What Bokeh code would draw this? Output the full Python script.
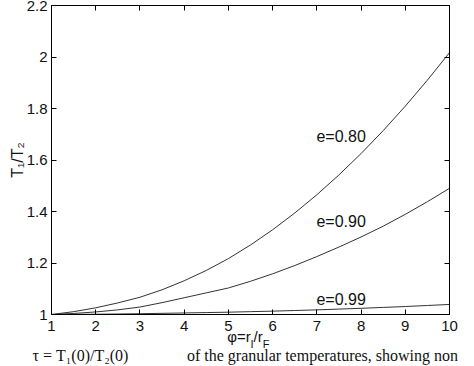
from bokeh.plotting import figure
from bokeh.models import LinearAxis, FixedTicker, Label
from bokeh.embed import file_html
from bokeh.resources import INLINE

# ---- data ----
phi = [1, 1.5, 2, 2.5, 3, 3.5, 4, 4.5, 5, 5.5, 6, 6.5, 7, 7.5, 8, 8.5, 9, 9.5, 10]
t_e080 = [1.000, 1.011, 1.026, 1.045, 1.067, 1.096, 1.131, 1.171, 1.217, 1.270,
          1.329, 1.394, 1.465, 1.542, 1.625, 1.714, 1.809, 1.910, 2.017]
t_e090 = [1.000, 1.004, 1.010, 1.018, 1.029, 1.046, 1.065, 1.084, 1.103, 1.129,
          1.158, 1.190, 1.225, 1.262, 1.301, 1.343, 1.389, 1.438, 1.490]
t_e099 = [1.000, 1.0005, 1.001, 1.002, 1.003, 1.0045, 1.006, 1.0075, 1.009, 1.011,
          1.013, 1.0155, 1.018, 1.021, 1.024, 1.0275, 1.031, 1.035, 1.039]
curve_labels = ["e=0.80", "e=0.90", "e=0.99"]
label_x = [7.55, 7.55, 7.55]
label_y = [1.691, 1.361, 1.058]
x_ticks = [1, 2, 3, 4, 5, 6, 7, 8, 9, 10]
y_ticks = [1.0, 1.2, 1.4, 1.6, 1.8, 2.0, 2.2]
y_tick_labels = ["1", "1.2", "1.4", "1.6", "1.8", "2", "2.2"]
y_title = "T\u2081/T\u2082"
x_title_main = ["\u03c6=r", "/r"]
x_title_sub = ["I", "F"]
caption = ["\u03c4 = T\u2081(0)/T\u2082(0)", "of the granular temperatures, showing non"]

FONT = "Liberation Sans"
LINE = "#333333"
TXT = "#111111"

# frame geometry (canvas px)
FL, FR, FT, FB = 51, 449, 5, 314
W_, H_ = 474, 366
p = figure(width=W_, height=H_, output_backend="svg", toolbar_location=None,
           x_range=(1, 10), y_range=(1, 2.2),
           min_border_left=FL, min_border_right=W_ - FR, min_border_top=FT,
           min_border_bottom=H_ - FB)
p.background_fill_color = "white"
p.border_fill_color = "white"
p.outline_line_color = "black"
p.outline_line_width = 1
p.grid.visible = False

for ax in p.xaxis + p.yaxis:
    ax.major_tick_in = 5
    ax.major_tick_out = 0
    ax.minor_tick_line_color = None
    ax.axis_line_color = "black"
    ax.major_tick_line_color = "black"
    ax.major_label_text_font = FONT
    ax.major_label_text_font_size = "15px"
    ax.major_label_text_color = TXT
p.xaxis.ticker = FixedTicker(ticks=x_ticks)
p.yaxis.ticker = FixedTicker(ticks=y_ticks)
p.yaxis.major_label_overrides = {t: s for t, s in zip(y_ticks, y_tick_labels)}
p.xaxis.major_label_standoff = 6
p.yaxis.major_label_standoff = 4
p.yaxis.axis_label = y_title
p.yaxis.axis_label_text_font = FONT
p.yaxis.axis_label_text_font_size = "16px"
p.yaxis.axis_label_text_font_style = "normal"
p.yaxis.axis_label_text_color = TXT
p.yaxis.axis_label_standoff = -2

def mirror_axis(ticks):
    return LinearAxis(ticker=FixedTicker(ticks=ticks), major_tick_in=5, major_tick_out=0,
                      minor_tick_line_color=None, major_label_text_font_size="0px",
                      major_label_text_color=None,
                      major_label_overrides={t: "" for t in ticks},
                      major_label_standoff=0, axis_line_color="black")
p.add_layout(mirror_axis(x_ticks), "above")
p.add_layout(mirror_axis(y_ticks), "right")

for ys in (t_e080, t_e090, t_e099):
    p.line(phi, ys, line_color=LINE, line_width=1)

for txt, lx, ly in zip(curve_labels, label_x, label_y):
    p.add_layout(Label(x=lx, y=ly, text=txt, text_font=FONT, text_font_size="16px",
                       text_color=TXT, text_align="center", text_baseline="middle"))

# ---- text rows below the x axis, drawn as label-only axes ----
PX_X = (FR - FL) / 9.0
def dx(px):
    return 1 + (px - FL) / PX_X

def text_row(centers_px, texts, font, size, standoff, style="normal"):
    pos = [dx(c) for c in centers_px]
    ax = LinearAxis(ticker=FixedTicker(ticks=pos),
                    major_label_overrides={t: s for t, s in zip(pos, texts)},
                    major_label_text_font=font, major_label_text_font_size=f"{size}px",
                    major_label_text_font_style=style, major_label_text_color=TXT,
                    major_label_standoff=standoff, major_tick_in=0, major_tick_out=0,
                    major_tick_line_color=None, minor_tick_line_color=None,
                    axis_line_color=None)
    p.add_layout(ax, "below")
    return ax

# x title: phi = r_I / r_F  (main pieces, then lowered subscripts)
text_row([238.5, 257.7], x_title_main, FONT, 15, -6)
text_row([251.6, 265.6], x_title_sub, FONT, 11, -10)
# caption line of the source page (cut by the crop)
text_row([80.0, 322.0], caption, "Liberation Serif", 16, -6)

open("out.html", "w").write(file_html(p, INLINE))
